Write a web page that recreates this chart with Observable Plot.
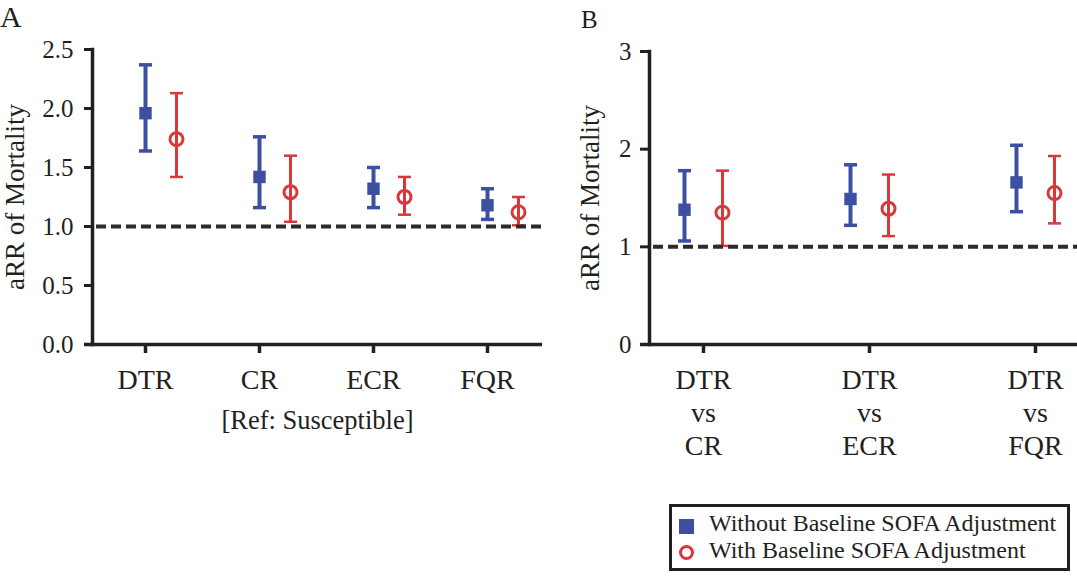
<!DOCTYPE html>
<html>
<head>
<meta charset="utf-8">
<script src="https://cdn.jsdelivr.net/npm/d3@7"></script>
<script src="https://cdn.jsdelivr.net/npm/@observablehq/plot@0.6"></script>
<style>
  body { margin: 0; background: #fff; }
  #fig { position: relative; width: 1077px; height: 580px; font-family: "Liberation Serif", serif; color: #231f20; overflow: hidden; }
  #fig svg, #fig svg text { font-family: "Liberation Serif", serif !important; }
  .panel { position: absolute; top: 0; }
  .letter { position: absolute; line-height: 1; }
  #legend { position: absolute; left: 669px; top: 504px; width: 401px; height: 67px; box-sizing: border-box;
            border: 3px solid #231f20; font-size: 24px; line-height: 27px; padding: 3px 0 0 37px; white-space: nowrap; }
  #legend .sym { position: absolute; left: 7px; box-sizing: border-box; }
  #legend .sq { top: 12px; width: 15px; height: 15px; background: #3d4fa1; }
  #legend .ci { top: 38px; width: 15px; height: 15px; border: 3px solid #d9383a; border-radius: 50%; }
</style>
</head>
<body>
<div id="fig">
  <div class="letter" style="left:0px;top:2px;font-size:30px;">A</div>
  <div class="letter" style="left:581px;top:7px;font-size:25px;">B</div>
  <div id="legend">
    <span class="sym sq"></span><span class="sym ci"></span>
    <div>Without Baseline SOFA Adjustment</div>
    <div>With Baseline SOFA Adjustment</div>
  </div>
</div>
<script>
// Panel A: resistance phenotype vs susceptible
const groupsA = ["DTR", "CR", "ECR", "FQR"];
const rrA_unadj   = [1.96, 1.42, 1.32, 1.18];
const loA_unadj   = [1.64, 1.16, 1.16, 1.06];
const hiA_unadj   = [2.37, 1.76, 1.50, 1.32];
const rrA_sofa    = [1.74, 1.29, 1.25, 1.12];
const loA_sofa    = [1.42, 1.04, 1.10, 1.01];
const hiA_sofa    = [2.13, 1.60, 1.42, 1.25];
const ticksA = [0, 0.5, 1.0, 1.5, 2.0, 2.5];

// Panel B: DTR vs other phenotypes
const groupsB = ["DTR vs CR", "DTR vs ECR", "DTR vs FQR"];
const rrB_unadj   = [1.38, 1.49, 1.66];
const loB_unadj   = [1.06, 1.22, 1.36];
const hiB_unadj   = [1.78, 1.84, 2.04];
const rrB_sofa    = [1.35, 1.39, 1.55];
const loB_sofa    = [1.01, 1.11, 1.24];
const hiB_sofa    = [1.78, 1.74, 1.93];
const ticksB = [0, 1, 2, 3];

const BLUE = "#3d4fa1";
const RED = "#d9383a";
const INK = "#231f20";
const FONT = "Liberation Serif, serif";

const rows = (groups, rr, lo, hi) => groups.map((g, i) => ({group: g, rr: rr[i], lo: lo[i], hi: hi[i]}));

// horizontal bar used as an error-bar cap
const capSymbol = {
  draw(ctx, size) {
    const w = Math.sqrt(size / Math.PI);
    ctx.moveTo(-w, 0);
    ctx.lineTo(w, 0);
  }
};

function errorMarks(data, color, dx, width, capWidth) {
  return [
    Plot.ruleX(data, {x: "group", y1: "lo", y2: "hi", stroke: color, strokeWidth: width, dx}),
    Plot.dot(data, {x: "group", y: "hi", symbol: capSymbol, r: capWidth / 2, stroke: color, strokeWidth: width - 0.5, dx}),
    Plot.dot(data, {x: "group", y: "lo", symbol: capSymbol, r: capWidth / 2, stroke: color, strokeWidth: width - 0.5, dx})
  ];
}

function panel({groups, unadj, sofa, yDomain, yTicks, yFormat, xRange, width, marginLeft, marginRight, marginTop,
                dxUnadj, dxSofa, yTickSize, yTickPadding, yTitleDx, extra}) {
  return Plot.plot({
    width, height: 470,
    marginLeft, marginRight, marginTop, marginBottom: 126,
    style: `font-family: ${FONT}; color: ${INK}; background: transparent; overflow: visible;`,
    x: {type: "point", domain: groups, range: xRange, padding: 0},
    y: {domain: yDomain},
    marks: [
      Plot.axisY({ticks: yTicks, tickFormat: yFormat, tickSize: yTickSize, tickPadding: yTickPadding,
                  fontSize: 25, fontFamily: FONT, strokeWidth: 3, label: null}),
      Plot.axisX({tickSize: 9, tickPadding: 12, fontSize: 28, fontFamily: FONT, strokeWidth: 3.5, label: null, lineHeight: 1.18,
                  tickFormat: d => d.replace(" vs ", "\nvs\n")}),
      Plot.frame({anchor: "left", stroke: INK, strokeWidth: 3.5}),
      Plot.ruleY([0], {stroke: INK, strokeWidth: 3.5, insetLeft: -yTickSize}),
      ...errorMarks(unadj, BLUE, dxUnadj, 4, 13),
      Plot.dot(unadj, {x: "group", y: "rr", symbol: "square", r: 7, fill: BLUE, dx: dxUnadj}),
      ...errorMarks(sofa, RED, dxSofa, 3, 13),
      Plot.dot(sofa, {x: "group", y: "rr", r: 6.5, stroke: RED, strokeWidth: 3, fill: "none", dx: dxSofa}),
      Plot.ruleY([1], {stroke: "#2b2b2b", strokeWidth: 4, strokeDasharray: "10,5", insetLeft: 4}),
      Plot.text(["aRR of Mortality"], {frameAnchor: "left", textAnchor: "middle", lineAnchor: "middle",
                                       rotate: -90, dx: yTitleDx, fontSize: 27, fontFamily: FONT, fill: INK}),
      ...(extra || [])
    ]
  });
}

const fig = document.getElementById("fig");

const plotA = panel({
  groups: groupsA,
  unadj: rows(groupsA, rrA_unadj, loA_unadj, hiA_unadj),
  sofa: rows(groupsA, rrA_sofa, loA_sofa, hiA_sofa),
  yDomain: [0, 2.5], yTicks: ticksA, yFormat: d3.format(".1f"),
  xRange: [145, 487], width: 560, marginLeft: 92, marginRight: 18, marginTop: 49,
  dxUnadj: 0, dxSofa: 31, yTickSize: 8, yTickPadding: 11, yTitleDx: -77,
  extra: [Plot.text(["[Ref: Susceptible]"], {frameAnchor: "bottom", lineAnchor: "middle", dy: 76,
                                             fontSize: 26.5, fontFamily: FONT, fill: INK})]
});
plotA.classList.add("panel");
plotA.style.left = "0px";
fig.appendChild(plotA);

const plotB = panel({
  groups: groupsB,
  unadj: rows(groupsB, rrB_unadj, loB_unadj, hiB_unadj),
  sofa: rows(groupsB, rrB_sofa, loB_sofa, hiB_sofa),
  yDomain: [0, 3], yTicks: ticksB, yFormat: d3.format("d"),
  xRange: [143, 475], width: 517, marginLeft: 89, marginRight: 0, marginTop: 51,
  dxUnadj: -19, dxSofa: 19, yTickSize: 9, yTickPadding: 9, yTitleDx: -59
});
plotB.classList.add("panel");
plotB.style.left = "560px";
fig.appendChild(plotB);
</script>
</body>
</html>
